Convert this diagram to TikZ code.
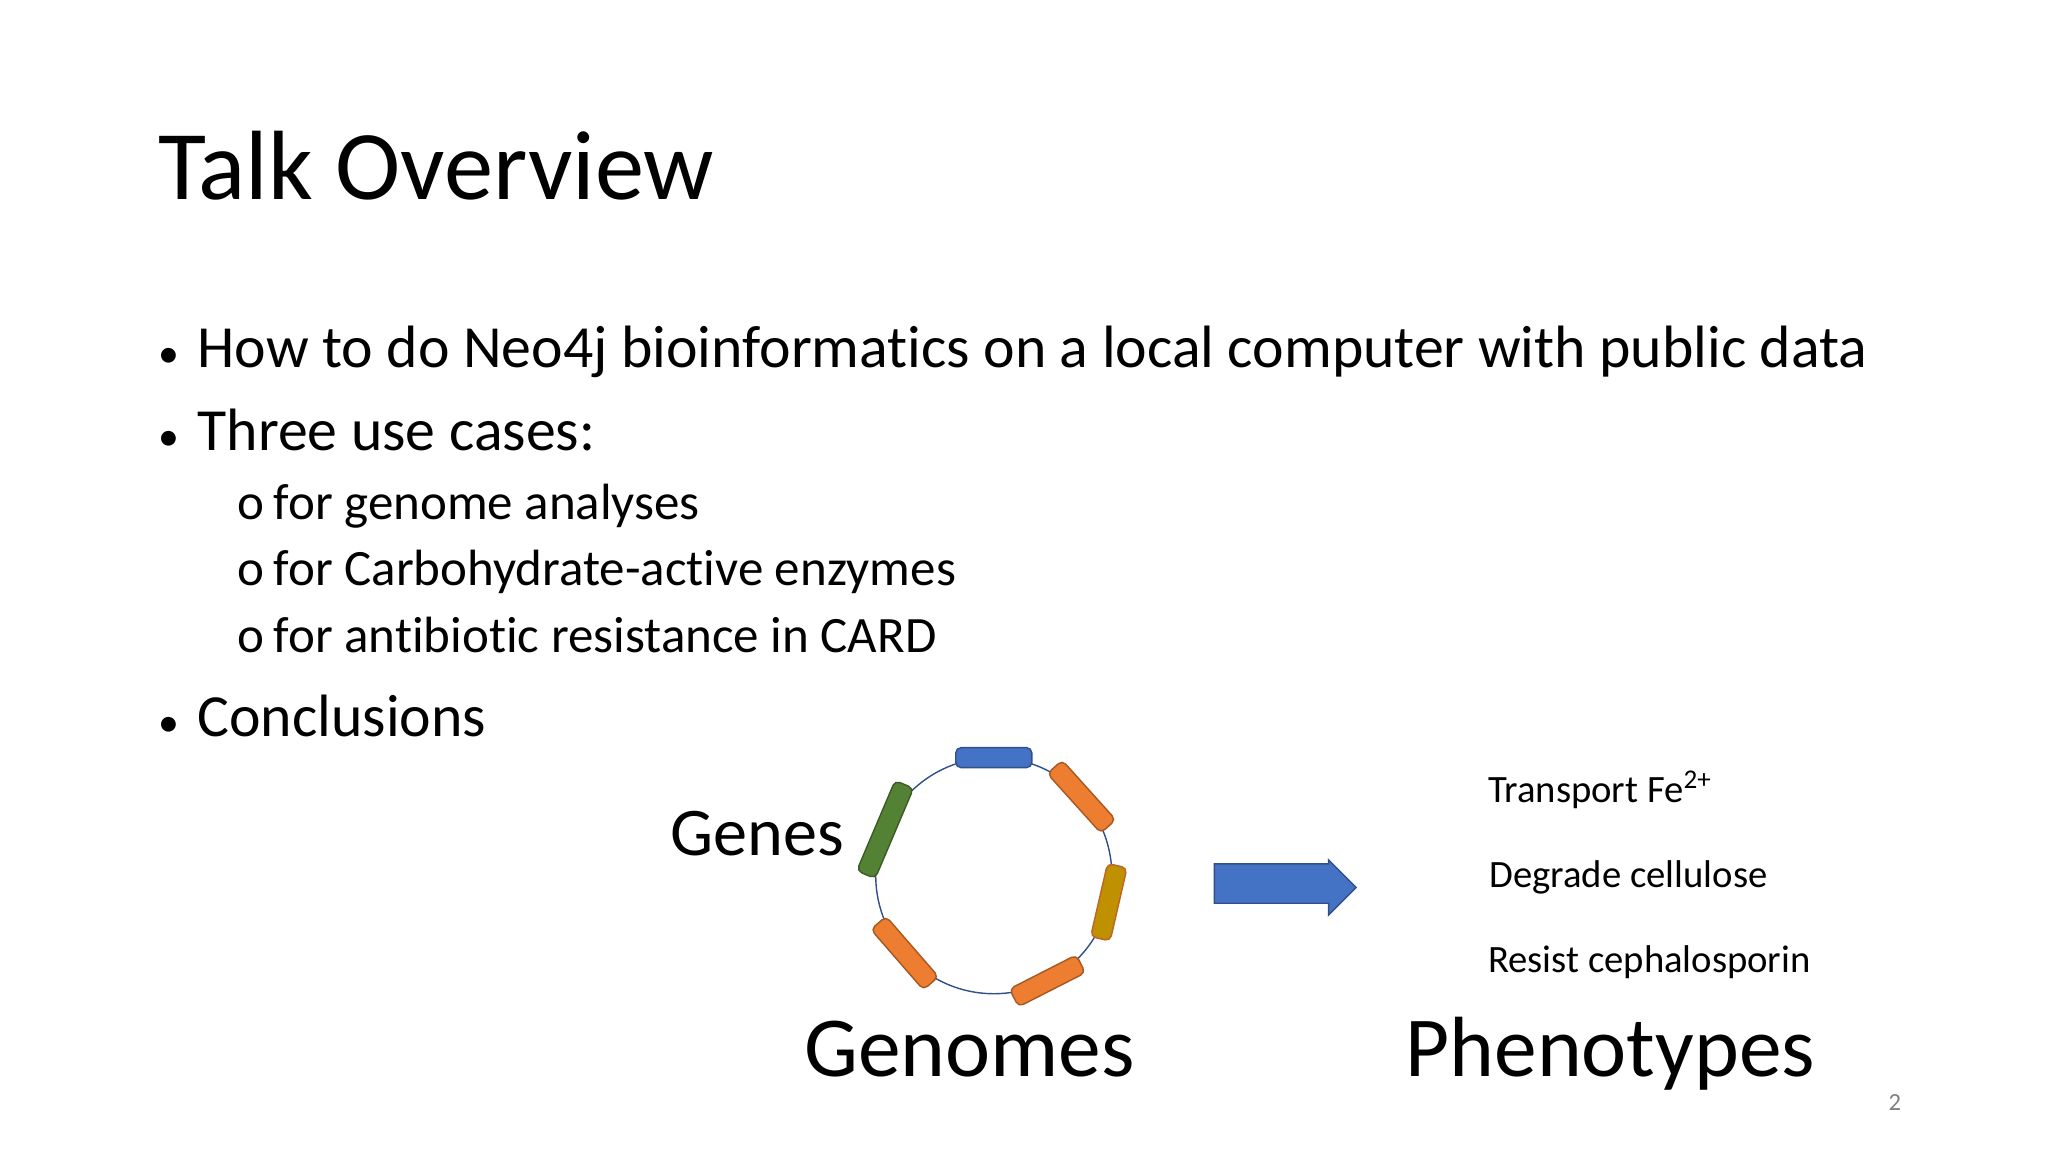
\documentclass[tikz,border=0pt]{standalone}
\usepackage{fontspec}
\setmainfont{Carlito}[Ligatures=NoCommon]
\usetikzlibrary{calc}
\definecolor{gblue}{HTML}{4472C4}
\definecolor{gorange}{HTML}{ED7D31}
\definecolor{ggreen}{HTML}{548235}
\definecolor{ggold}{HTML}{BF9000}
\tikzset{
  txt/.style={anchor=base west, inner sep=0pt},
  big/.style={txt, font=\fontsize{17}{21}\selectfont},
  sub/.style={txt, font=\fontsize{14.5}{18}\selectfont},
  side/.style={txt, font=\fontsize{11}{14}\selectfont},
  gene/.style={rectangle, rounded corners=1.5pt, minimum height=0.2cm, inner sep=0pt, thin}
}
\begin{document}
\begin{tikzpicture}[x=0.013128cm, y=-0.013128cm]
\useasboundingbox (0,0) rectangle (1560,877.5);
\node[txt, font=\fontsize{28}{34}\selectfont] (title) at (120,152) {Talk Overview};
\node[big] (d1) at (120,280) {\scalebox{0.7}{•}};
\node[big] (b1) at (150,280) {How to do Neo4j bioinformatics on a local computer with public data};
\node[big] (d2) at (120,343) {\scalebox{0.7}{•}};
\node[big] (b2) at (150,343) {Three use cases:};
\node[sub] (o1) at (180,396) {o};
\node[sub] (s1) at (208,396) {for genome analyses};
\node[sub] (o2) at (180,446) {o};
\node[sub] (s2) at (208,446) {for Carbohydrate-active enzymes};
\node[sub] (o3) at (180,497) {o};
\node[sub] (s3) at (208,497) {for antibiotic resistance in CARD};
\node[big] (d3) at (120,561) {\scalebox{0.7}{•}};
\node[big] (b3) at (150,561) {Conclusions};

% genome circle
\coordinate (c) at (757,667);
\draw[gblue!70!black, thin] (c) circle (1.18cm);
\node[gene, fill=gblue, draw=gblue!70!black, minimum width=0.76cm] (g1) at ($(c)+(90:1.18cm)$) {};
\node[gene, fill=gorange, draw=gorange!70!black, minimum width=0.8cm, rotate=-48] (g2) at ($(c)+(42:1.18cm)$) {};
\node[gene, fill=ggold, draw=gorange!80!black, minimum width=0.75cm, rotate=77] (g3) at ($(c)+(-13:1.18cm)$) {};
\node[gene, fill=gorange, draw=gorange!70!black, minimum width=0.75cm, rotate=27] (g4) at ($(c)+(-63:1.18cm)$) {};
\node[gene, fill=gorange, draw=gorange!70!black, minimum width=0.8cm, rotate=-49] (g5) at ($(c)+(-139:1.18cm)$) {};
\node[gene, fill=ggreen, draw=ggreen!70!black, minimum width=0.98cm, rotate=67] (g6) at ($(c)+(157:1.18cm)$) {};

\node[txt, font=\fontsize{19.4}{24}\selectfont] (genes) at (510,652) {Genes};
\node[txt, font=\fontsize{24.3}{29}\selectfont] (genomes) at (612,820) {Genomes};
\node[txt, font=\fontsize{24.3}{29}\selectfont] (pheno) at (1070,820) {Phenotypes};

% arrow
\draw[fill=gblue, draw=gblue!70!black, thin] (925,658) -- (1012,658) -- (1012,655) -- (1033,676) -- (1012,697) -- (1012,688) -- (925,688) -- cycle;

\node[side] (p1) at (1133,611) {Transport Fe\textsuperscript{2+}};
\node[side] (p2) at (1134,676) {Degrade cellulose};
\node[side] (p3) at (1133,741) {Resist cephalosporin};
\node[txt, font=\fontsize{7}{8}\selectfont, text=black!50] (pg) at (1438,846) {2};
\end{tikzpicture}
\end{document}
